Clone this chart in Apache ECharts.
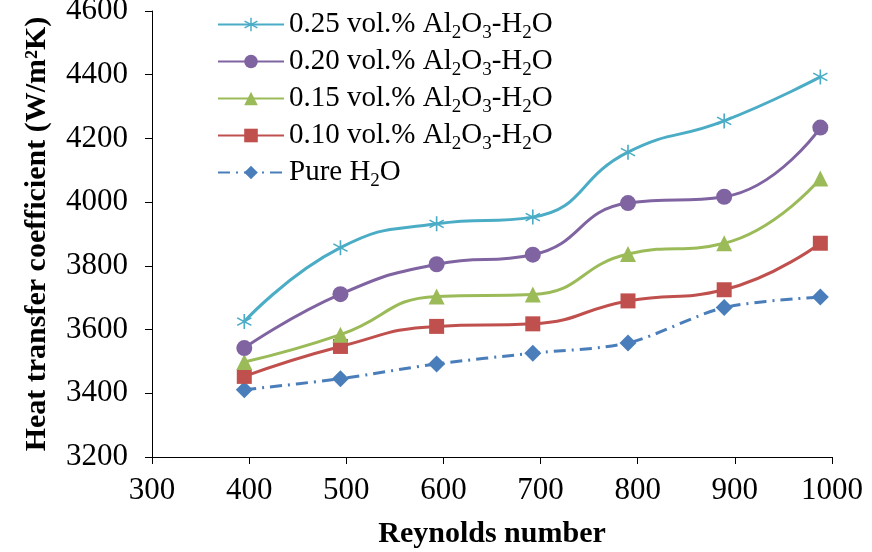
<!DOCTYPE html>
<html>
<head>
<meta charset="utf-8">
<script src="https://cdn.jsdelivr.net/npm/echarts@6/dist/echarts.min.js"></script>
<style>
  html, body { margin: 0; padding: 0; background: #fff; }
  #main { width: 872px; height: 552px; }
</style>
</head>
<body>
<div id="main"></div>
<script>
// Reynolds numbers (x)
var reynolds = [395, 494, 593, 692, 790, 889, 988];
// heat transfer coefficient, W/m2K
var al025 = [3625, 3857, 3932, 3953, 4157, 4255, 4393];
var al020 = [3542, 3711, 3805, 3835, 3997, 4017, 4234];
var al015 = [3498, 3584, 3704, 3710, 3837, 3871, 4074];
var al010 = [3453, 3547, 3610, 3618, 3690, 3725, 3871];
var pureWater = [3411, 3446, 3492, 3526, 3558, 3669, 3702];

var seriesNames = [
  '0.25 vol.% Al2O3-H2O',
  '0.20 vol.% Al2O3-H2O',
  '0.15 vol.% Al2O3-H2O',
  '0.10 vol.% Al2O3-H2O',
  'Pure H2O'
];

var font = '"Liberation Serif", "Times New Roman", serif';

// asterisk marker (vertical bar + two diagonals)
var starPath = 'path://M9,0 L11,0 L11,20 L9,20 Z ' +
  'M0.84,5.87 L1.84,4.13 L19.16,14.13 L18.16,15.87 Z ' +
  'M1.84,15.87 L0.84,14.13 L18.16,4.13 L19.16,5.87 Z';

function pairs(ys) {
  return reynolds.map(function (x, i) { return [x, ys[i]]; });
}

// subscript the digits after Al, O and H in the legend
function legendText(name) {
  return name.replace(/(Al|O|H)(\d)/g, '$1{s|$2}')
    .split(/(\{s\|\d\})/).map(function (p) {
      if (p.indexOf('{s|') === 0) return p;
      return p ? '{n|' + p + '}' : '';
    }).join('');
}

function plain(v) {
  return String(v);
}

function curve(name, data, color, symbol, size, dash) {
  return {
    name: name,
    type: 'line',
    data: pairs(data),
    smooth: dash ? 0.3 : 0.5,
    symbol: symbol,
    symbolSize: size,
    itemStyle: { color: color },
    lineStyle: { color: color, width: 3, type: dash || 'solid' },
    emphasis: { disabled: true }
  };
}

var option = {
  animation: false,
  textStyle: { fontFamily: font, color: '#000' },
  grid: { left: 152, right: 40, top: 11, bottom: 95, outerBoundsMode: 'none', containLabel: false },
  legend: {
    orient: 'vertical',
    left: 212,
    top: 1,
    itemWidth: 66,
    itemHeight: 17,
    itemGap: 0,
    data: seriesNames,
    formatter: legendText,
    textStyle: {
      fontFamily: font,
      color: '#000',
      padding: [0, 0, 0, 0],
      rich: {
        n: { fontFamily: font, fontSize: 29, lineHeight: 30, color: '#000' },
        s: { fontFamily: font, fontSize: 19, lineHeight: 12, padding: [18, 0, 0, 0], color: '#000' }
      }
    }
  },
  xAxis: {
    type: 'value',
    min: 300,
    max: 1000,
    interval: 100,
    name: 'Reynolds number',
    nameLocation: 'middle',
    nameGap: 62,
    nameTextStyle: { fontFamily: font, fontSize: 30, fontWeight: 'bold', color: '#000' },
    axisLine: { show: true, lineStyle: { color: '#000', width: 1 } },
    axisTick: { show: true, length: 7, lineStyle: { color: '#000' } },
    axisLabel: { fontFamily: font, fontSize: 31, color: '#000', margin: 18, formatter: plain },
    splitLine: { show: false }
  },
  yAxis: {
    type: 'value',
    min: 3200,
    max: 4600,
    interval: 200,
    name: 'Heat transfer coefficient (W/m²K)',
    nameLocation: 'middle',
    nameGap: 100,
    nameTextStyle: { fontFamily: font, fontSize: 30, fontWeight: 'bold', color: '#000' },
    axisLine: { show: true, lineStyle: { color: '#000', width: 1 } },
    axisTick: { show: true, length: 7, lineStyle: { color: '#000' } },
    axisLabel: { fontFamily: font, fontSize: 31, color: '#000', margin: 24, formatter: plain },
    splitLine: { show: false }
  },
  series: [
    curve(seriesNames[4], pureWater, '#4A7EBB', 'diamond', [17, 17], [12, 6, 2, 6]),
    curve(seriesNames[3], al010, '#C0504D', 'rect', 15),
    curve(seriesNames[2], al015, '#9BBB59', 'triangle', 16),
    curve(seriesNames[1], al020, '#8064A2', 'circle', 16),
    curve(seriesNames[0], al025, '#4BACC6', starPath, 15)
  ]
};

var myChart = echarts.init(document.getElementById('main'));
myChart.setOption(option);
</script>
</body>
</html>
